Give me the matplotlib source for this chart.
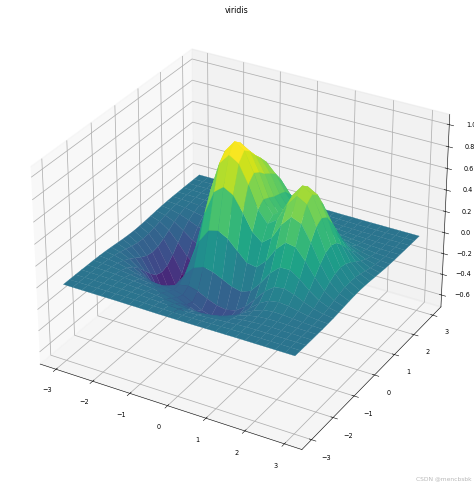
import numpy as np
import matplotlib
matplotlib.use('Agg')
import matplotlib.pyplot as plt

# grid positions
x_values = [-3, -2.75, -2.5, -2.25, -2, -1.75, -1.5, -1.25, -1, -0.75, -0.5, -0.25, 0,
            0.25, 0.5, 0.75, 1, 1.25, 1.5, 1.75, 2, 2.25, 2.5, 2.75, 3]
y_values = list(x_values)

# surface heights, one row per y value, front (y=-3) to back (y=3)
z_rows = [
    [0,0,0,0,0,0,0,-.001,-.001,-.002,-.003,-.003,-.003,-.003,-.003,-.002,-.001,-.001,0,0,0,0,0,0,0],
    [0,0,0,0,0,-.001,-.001,-.002,-.004,-.006,-.008,-.010,-.010,-.010,-.008,-.006,-.004,-.002,-.001,0,0,0,0,0,0],
    [0,0,0,-.001,-.002,-.002,-.004,-.007,-.011,-.016,-.021,-.026,-.028,-.026,-.022,-.016,-.010,-.005,-.001,0,0,0,0,0,0],
    [0,-.001,-.001,-.003,-.004,-.007,-.012,-.017,-.026,-.037,-.050,-.061,-.066,-.063,-.052,-.038,-.023,-.010,-.003,.002,.003,.002,.001,.001,0],
    [-.001,-.001,-.003,-.007,-.013,-.019,-.026,-.036,-.051,-.072,-.097,-.119,-.129,-.123,-.103,-.075,-.044,-.018,0,.007,.008,.006,.003,.002,.001],
    [-.001,-.004,-.009,-.018,-.031,-.044,-.055,-.067,-.083,-.113,-.151,-.187,-.204,-.197,-.167,-.120,-.066,-.019,.013,.024,.022,.015,.008,.004,.001],
    [-.003,-.009,-.020,-.039,-.065,-.089,-.103,-.107,-.112,-.135,-.177,-.223,-.251,-.247,-.213,-.151,-.073,.001,.050,.065,.056,.036,.019,.009,.003],
    [-.006,-.017,-.040,-.077,-.123,-.162,-.172,-.149,-.112,-.097,-.120,-.164,-.199,-.213,-.192,-.130,-.035,.064,.130,.143,.115,.073,.038,.017,.006],
    [-.011,-.030,-.069,-.132,-.209,-.267,-.266,-.187,-.067,.028,.062,.042,0,-.043,-.063,-.029,.068,.187,.265,.268,.209,.132,.068,.030,.011],
    [-.017,-.046,-.105,-.202,-.317,-.398,-.376,-.220,.017,.232,.354,.376,.330,.243,.159,.143,.227,.359,.446,.430,.330,.206,.107,.047,.017],
    [-.023,-.063,-.143,-.275,-.430,-.535,-.490,-.253,.107,.449,.663,.731,.682,.550,.398,.326,.394,.539,.634,.598,.454,.282,.146,.064,.023],
    [-.027,-.076,-.173,-.331,-.516,-.640,-.580,-.284,.168,.601,.881,.978,.924,.759,.560,.453,.514,.671,.776,.726,.550,.342,.177,.077,.027],
    [-.029,-.081,-.184,-.352,-.549,-.680,-.616,-.299,.184,.648,.949,1.056,1,.823,.608,.491,.552,.718,.827,.774,.586,.364,.188,.082,.029],
    [-.027,-.076,-.173,-.331,-.516,-.638,-.577,-.278,.178,.617,.903,1.006,.954,.787,.582,.469,.524,.677,.778,.728,.550,.342,.177,.077,.027],
    [-.023,-.063,-.143,-.273,-.426,-.525,-.470,-.213,.179,.560,.815,.914,.876,.733,.550,.438,.466,.579,.654,.608,.458,.284,.146,.064,.023],
    [-.017,-.046,-.105,-.199,-.309,-.376,-.326,-.120,.193,.506,.728,.828,.810,.695,.533,.417,.403,.459,.496,.452,.338,.209,.107,.047,.017],
    [-.011,-.030,-.067,-.128,-.195,-.233,-.188,-.033,.203,.448,.636,.734,.736,.649,.510,.391,.338,.341,.343,.302,.223,.136,.070,.030,.011],
    [-.006,-.017,-.038,-.071,-.108,-.124,-.086,.023,.190,.369,.518,.606,.619,.557,.446,.336,.267,.236,.216,.181,.130,.079,.040,.017,.006],
    [-.003,-.009,-.018,-.035,-.052,-.055,-.028,.043,.150,.271,.377,.445,.461,.421,.341,.255,.189,.151,.125,.099,.069,.040,.021,.009,.003],
    [-.001,-.004,-.008,-.014,-.021,-.020,-.003,.039,.101,.173,.239,.285,.298,.275,.223,.166,.118,.087,.065,.048,.032,.019,.009,.004,.001],
    [-.001,-.001,-.003,-.005,-.007,-.005,.004,.026,.057,.095,.131,.157,.165,.153,.125,.093,.064,.044,.030,.021,.014,.008,.003,.002,.001],
    [0,-.001,-.001,-.002,-.002,-.001,.004,.013,.028,.045,.062,.075,.078,.073,.060,.044,.030,.020,.013,.008,.005,.003,.001,.001,0],
    [0,0,0,-.001,0,0,.002,.005,.011,.018,.025,.030,.032,.030,.025,.018,.012,.007,.005,.002,.002,.001,0,0,0],
    [0,0,0,0,0,0,.001,.002,.004,.006,.009,.011,.011,.011,.009,.006,.004,.003,.001,.001,0,0,0,0,0],
    [0,0,0,0,0,0,0,.001,.001,.002,.003,.003,.003,.003,.003,.002,.001,.001,0,0,0,0,0,0,0],
]

x_ticks = [-3, -2, -1, 0, 1, 2, 3]
z_ticks = [-0.6, -0.4, -0.2, 0.0, 0.2, 0.4, 0.6, 0.8, 1.0]

plt.rcParams['font.size'] = 4.7
plt.rcParams['axes.linewidth'] = 0.4
plt.rcParams['grid.linewidth'] = 0.55
plt.rcParams['xtick.major.width'] = 0.4
plt.rcParams['ytick.major.width'] = 0.4

fig = plt.figure(figsize=(4.74, 4.83), dpi=100)
ax = fig.add_axes([0.0105, 0.0057, 0.983, 0.97], projection='3d')

X, Y = np.meshgrid(x_values, y_values)
Z = np.array(z_rows)
surf = ax.plot_surface(X, Y, Z, cmap='viridis', rstride=1, cstride=1, linewidth=0, antialiased=True)
# edges in the face colour, so the seams between facets don't show
surf.set_edgecolor('face')
surf.set_linewidth(0.2)

ax.set_xticks(x_ticks)
ax.set_yticks(x_ticks)
ax.set_zticks(z_ticks)
ax.tick_params(pad=1.5, length=2)

fig.text(0.5, 0.979, 'viridis', fontsize=5.6, ha='center', va='center')
fig.text(0.995, 0.004, 'CSDN @mencbsbk', fontsize=4.3, color='#b8b8b8', ha='right', va='bottom')

fig.savefig('out.png', dpi=100)
